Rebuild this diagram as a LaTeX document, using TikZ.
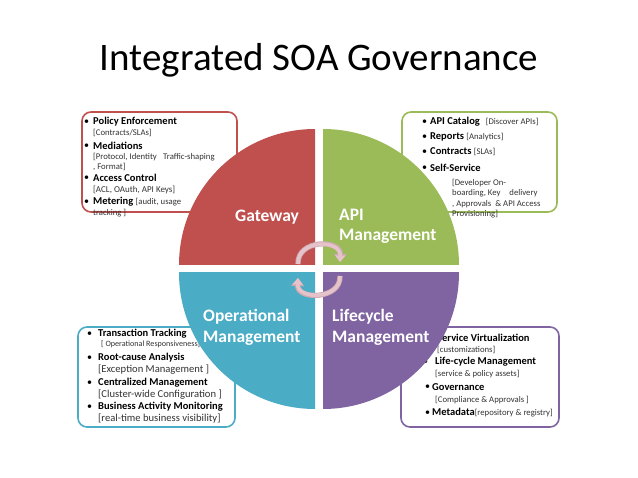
\documentclass[tikz,border=0pt]{standalone}
\usepackage{fontspec}
\setmainfont{Carlito}
\usetikzlibrary{arrows.meta}
\definecolor{qred}{HTML}{C0504D}
\definecolor{qgreen}{HTML}{9BBB59}
\definecolor{qteal}{HTML}{4BACC6}
\definecolor{qpurple}{HTML}{8064A2}
\definecolor{arrowpink}{RGB}{230,194,202}
\definecolor{arrowedge}{RGB}{205,170,178}
\newcommand\smtxt[2][8.7]{{\mdseries\fontsize{#1}{#1}\selectfont\color{black!80}#2}}
\begin{document}
\begin{tikzpicture}[x=1pt,y=-1pt,
  bl/.style={anchor=west, inner sep=0pt, font=\fontsize{10.5}{12}\selectfont\bfseries},
  sm/.style={anchor=west, inner sep=0pt, font=\fontsize{8.7}{10}\selectfont, text=black!80},
  smb/.style={anchor=west, inner sep=0pt, font=\fontsize{10.6}{12}\selectfont, text=black!80},
  bul/.style={anchor=west, inner sep=0pt, font=\fontsize{10}{12}\selectfont},
  infobox/.style={rounded corners=9pt, line width=1.6pt, fill=white},
  qlab/.style={anchor=west, inner sep=0pt, text=white, font=\fontsize{17.5}{21}\selectfont\bfseries},
  cycedge/.style={line width=5.2pt, draw=arrowedge, -{Triangle[length=8pt,width=12.5pt]}},
  cyc/.style={line width=3.6pt, draw=arrowpink, -{Triangle[length=6.5pt,width=10pt]}}
]
\useasboundingbox (0,0) rectangle (638,478);

% title
\node[anchor=base, inner sep=0pt, font=\fontsize{39}{44}\selectfont] (title) at (319,71) {Integrated SOA Governance};

% boxes
\draw[infobox, draw=qred] (82,112) rectangle (237,212);
\draw[infobox, draw=qgreen] (402,112) rectangle (557,212);
\draw[infobox, draw=qteal] (78,327) rectangle (235,427);
\draw[infobox, draw=qpurple] (401,327) rectangle (559,427);

% red box text
\node[bul] (rb1) at (84,122) {\textbullet};
\node[bl] (r1) at (93,122) {Policy Enforcement};
\node[sm] (r1s) at (93,133) {[Contracts/SLAs]};
\node[bul] (rb2) at (84,146) {\textbullet};
\node[bl] (r2) at (93,146) {Mediations};
\node[sm] (r2s) at (93,157) {[Protocol, Identity};
\node[sm] (r2t) at (163,157) {Traffic-shaping};
\node[sm] (r2u) at (93,167) {, Format]};
\node[bul] (rb3) at (84,178) {\textbullet};
\node[bl] (r3) at (93,178) {Access Control};
\node[anchor=west, inner sep=0pt, font=\fontsize{9}{10}\selectfont, text=black!80] (r3s) at (93,190) {[ACL, OAuth, API Keys]};
\node[bul] (rb4) at (84,202) {\textbullet};
\node[bl] (r4) at (93,202) {Metering \smtxt{[audit, usage}};
\node[sm] (r4s) at (93,213) {tracking ]};

% green box text
\node[bul] (gb1) at (422,122) {\textbullet};
\node[bl] (g1) at (430,122) {API Catalog\hspace{6pt}\smtxt{[Discover APIs]}};
\node[bul] (gb2) at (422,137) {\textbullet};
\node[bl] (g2) at (430,137) {Reports \smtxt{[Analytics]}};
\node[bul] (gb3) at (422,152) {\textbullet};
\node[bl] (g3) at (430,152) {Contracts \smtxt{[SLAs]}};
\node[bul] (gb4) at (422,168) {\textbullet};
\node[bl] (g4) at (430,168) {Self-Service};
\node[sm] (g4a) at (452,183) {[Developer On-};
\node[sm] (g4b) at (452,193) {boarding,~Key\hspace{9pt}delivery};
\node[sm] (g4c) at (452,204) {, Approvals\hspace{4pt}\& API Access};
\node[sm] (g4d) at (452,214) {Provisioning]};

% teal box text
\node[bul] (tb1) at (87,334) {\textbullet};
\node[bl] (t1) at (98,334) {Transaction Tracking};
\node[anchor=west, inner sep=0pt, font=\fontsize{8.1}{9}\selectfont, text=black!80] (t1s) at (101,344) {[ Operational Responsiveness]};
\node[bul] (tb2) at (87,358) {\textbullet};
\node[bl] (t2) at (98,358) {Root-cause Analysis};
\node[smb] (t2s) at (98,370) {[Exception Management ]};
\node[bul] (tb3) at (87,383) {\textbullet};
\node[bl] (t3) at (98,383) {Centralized Management};
\node[smb] (t3s) at (98,395) {[Cluster-wide Configuration ]};
\node[bul] (tb4) at (87,407) {\textbullet};
\node[bl] (t4) at (98,407) {Business Activity Monitoring};
\node[smb] (t4s) at (98,419) {[real-time business visibility]};

% purple box text
\node[bl] (p1) at (437,338) {Service Virtualization};
\node[sm] (p1s) at (437,350) {[customizations]};
\node[bul] (pb2) at (423,362) {\textbullet};
\node[bl] (p2) at (435,362) {Life-cycle Management};
\node[sm] (p2s) at (435,374) {[service \& policy assets]};
\node[bul] (pb3) at (425,387) {\textbullet};
\node[bl] (p3) at (432,387) {Governance};
\node[sm] (p3s) at (435,400) {[Compliance \& Approvals ]};
\node[bul] (pb4) at (425,413) {\textbullet};
\node[bl] (p4) at (432,413) {Metadata\smtxt{[repository \& registry]}};

% quadrants
\begin{scope}
  \clip (0,0) rectangle (315,265);
  \fill[qred] (315,265) circle[radius=136pt];
\end{scope}
\begin{scope}
  \clip (323,0) rectangle (638,265);
  \fill[qgreen] (323,265) circle[radius=136pt];
\end{scope}
\begin{scope}
  \clip (0,273) rectangle (315,478);
  \fill[qteal] (315,273) circle[radius=136pt];
\end{scope}
\begin{scope}
  \clip (323,273) rectangle (638,478);
  \fill[qpurple] (323,273) circle[radius=136pt];
\end{scope}

% quadrant labels
\node[qlab] (gw) at (235,217) {Gateway};
\node[qlab] (api1) at (339,215) {API};
\node[qlab] (api2) at (339,236) {Management};
\node[qlab] (op1) at (203,317) {Operational};
\node[qlab] (op2) at (203,338) {Management};
\node[qlab] (lc1) at (332,317) {Lifecycle};
\node[qlab] (lc2) at (332,338) {Management};

% cycle arrows
\coordinate (a1s) at (298,264);
\coordinate (a1e) at (340,262);
\coordinate (a2s) at (340,276);
\coordinate (a2e) at (298,278);
\draw[cycedge] (a1s) .. controls (297,239) and (341,239) .. (a1e);
\draw[cyc] (a1s) .. controls (297,239) and (341,239) .. (a1e);
\draw[cycedge] (a2s) .. controls (341,300) and (297,300) .. (a2e);
\draw[cyc] (a2s) .. controls (341,300) and (297,300) .. (a2e);
\end{tikzpicture}
\end{document}
